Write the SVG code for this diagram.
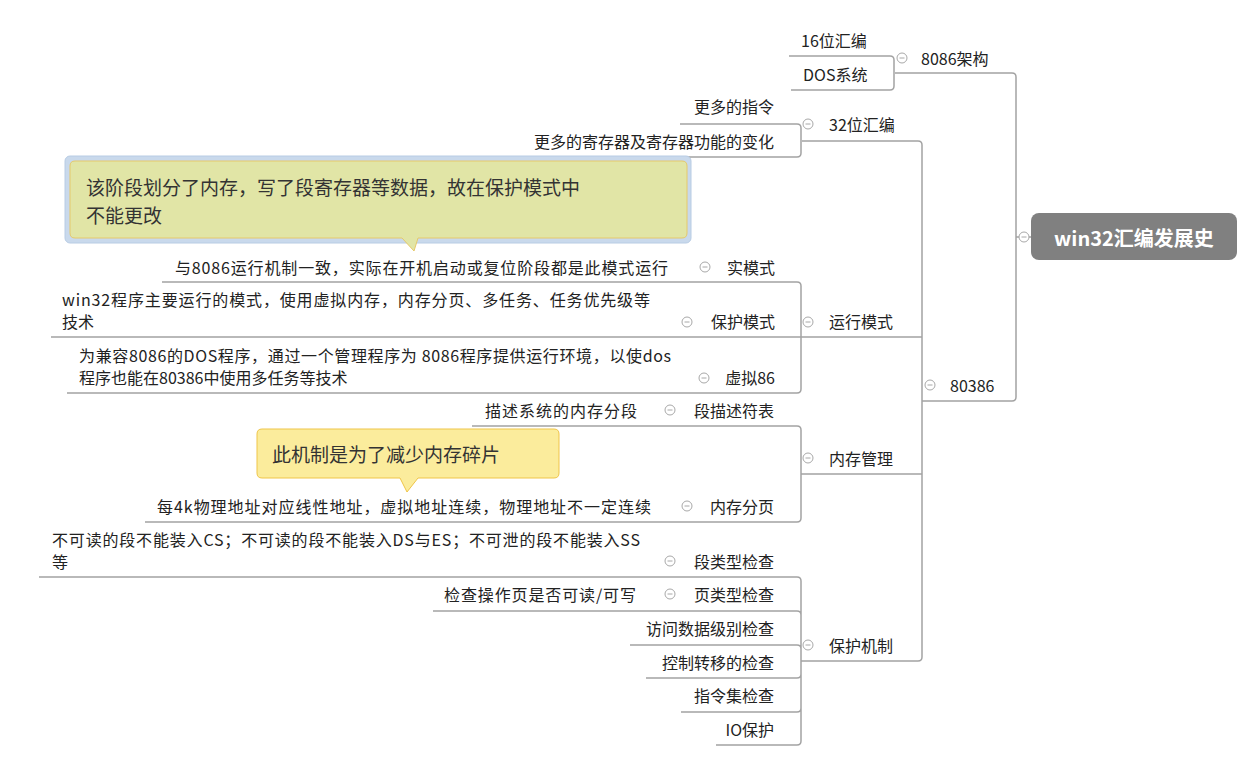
<svg xmlns="http://www.w3.org/2000/svg" width="1248" height="772" viewBox="0 0 1248 772">
<style>
text{font-family:"Noto Sans CJK SC","Noto Sans",sans-serif;font-size:16px;fill:#222;dominant-baseline:central}
.e{text-anchor:end}
.c path{fill:none;stroke:#a3a3a3;stroke-width:1.5}
.col circle{fill:#fff;stroke:#a8a8a8;stroke-width:1}
.col line{stroke:#a8a8a8;stroke-width:1}
</style>
<defs>
<g id="m" class="col"><circle r="5"/><line x1="-2.5" y1="0" x2="2.5" y2="0"/></g>
</defs>
<rect width="1248" height="772" fill="#fff"/>
<g id="connectors" class="c">
<path d="M895,73 H1012 Q1016,73 1016,77 V237 M922,401 H1012 Q1016,401 1016,397 V237 M1016,237 H1031"/>
<path d="M789,56 H890 Q894,56 894,60 V73 M791,90 H890 Q894,90 894,86 V73"/>
<path d="M802,141 H918 Q922,141 922,145 V401 M801,661 H918 Q922,661 922,657 V401 M801,337 H922 M801,474 H922"/>
<path d="M680,124 H797 Q801,124 801,128 V141 M510,157 H797 Q801,157 801,153 V141"/>
<path d="M162,282 H797 Q801,282 801,286 V337 M51,337 H801 M67,393 H797 Q801,393 801,389 V337"/>
<path d="M472,426 H797 Q801,426 801,430 V474 M145,522 H797 Q801,522 801,518 V474"/>
<path d="M39,577 H797 Q801,577 801,581 V661 M433,611 H797 Q801,611 801,615 V661 M630,645 H797 Q801,645 801,649 V661 M646,678 H797 Q801,678 801,674 V661 M681,712 H797 Q801,712 801,708 V661 M716,745 H797 Q801,745 801,741 V661"/>
</g>
<g id="root"><rect x="1031" y="213" width="206" height="47" rx="8" fill="#808080"/><text x="1134" y="237" text-anchor="middle" style="fill:#fff;font-weight:bold;font-size:20px">win32汇编发展史</text><use href="#m" x="1024" y="237"/></g>
<g id="n8086"><text x="921" y="58">8086架构</text><use href="#m" x="902" y="58"/></g>
<g id="n16"><text x="801" y="40">16位汇编</text></g>
<g id="ndos"><text x="803" y="74">DOS系统</text></g>
<g id="n80386"><text x="950" y="385">80386</text><use href="#m" x="930" y="385"/></g>
<g id="n32"><text x="829" y="124">32位汇编</text><use href="#m" x="808" y="124"/></g>
<g id="n32a"><text class="e" x="774" y="106">更多的指令</text></g>
<g id="n32b"><text class="e" x="774" y="141">更多的寄存器及寄存器功能的变化</text></g>
<g id="nrun"><text x="829" y="321">运行模式</text><use href="#m" x="808" y="322"/></g>
<g id="nreal"><text class="e" x="775" y="267">实模式</text><use href="#m" x="705" y="267"/></g>
<g id="nreald"><text x="175" y="267" textLength="493">与8086运行机制一致，实际在开机启动或复位阶段都是此模式运行</text></g>
<g id="nprot"><text class="e" x="775" y="321">保护模式</text><use href="#m" x="687" y="322"/></g>
<g id="nprotd"><text x="62" y="299" textLength="588">win32程序主要运行的模式，使用虚拟内存，内存分页、多任务、任务优先级等</text><text x="62" y="321">技术</text></g>
<g id="nv86"><text class="e" x="775" y="377">虚拟86</text><use href="#m" x="704" y="378"/></g>
<g id="nv86d"><text x="79" y="355" textLength="592">为兼容8086的DOS程序，通过一个管理程序为 8086程序提供运行环境，以使dos</text><text x="79" y="377">程序也能在80386中使用多任务等技术</text></g>
<g id="nmem"><text x="829" y="458">内存管理</text><use href="#m" x="808" y="458"/></g>
<g id="nseg"><text class="e" x="774" y="410">段描述符表</text><use href="#m" x="670" y="410"/></g>
<g id="nsegd"><text x="485" y="410" textLength="152">描述系统的内存分段</text></g>
<g id="npage"><text class="e" x="774" y="506">内存分页</text><use href="#m" x="687" y="506"/></g>
<g id="npaged"><text x="157" y="506" textLength="494">每4k物理地址对应线性地址，虚拟地址连续，物理地址不一定连续</text></g>
<g id="npm"><text x="829" y="645">保护机制</text><use href="#m" x="808" y="645"/></g>
<g id="nst"><text class="e" x="774" y="561">段类型检查</text><use href="#m" x="670" y="561"/></g>
<g id="nstd"><text x="52" y="539" textLength="588">不可读的段不能装入CS；不可读的段不能装入DS与ES；不可泄的段不能装入SS</text><text x="52" y="561">等</text></g>
<g id="npt"><text class="e" x="774" y="594">页类型检查</text><use href="#m" x="670" y="594"/></g>
<g id="nptd"><text x="444" y="594" textLength="192">检查操作页是否可读/可写</text></g>
<g id="nacc"><text class="e" x="774" y="628">访问数据级别检查</text></g>
<g id="nctl"><text class="e" x="774" y="662">控制转移的检查</text></g>
<g id="nins"><text class="e" x="774" y="695">指令集检查</text></g>
<g id="nio"><text class="e" x="774" y="729">IO保护</text></g>
<g id="note1">
<rect x="65" y="156" width="626" height="87" rx="5" fill="#c9d9ec" stroke="#b8cce4"/>
<path d="M75,161 H682 Q687,161 687,166 V233 Q687,238 682,238 H418 L414,251 L402,238 H75 Q70,238 70,233 V166 Q70,161 75,161 Z" fill="#e1e5a6" stroke="#e6c96a"/>
<text x="86" y="186" style="font-size:19px;fill:#333">该阶段划分了内存，写了段寄存器等数据，故在保护模式中</text>
<text x="86" y="214" style="font-size:19px;fill:#333">不能更改</text>
</g>
<g id="note2">
<path d="M262,429 H554 Q559,429 559,434 V473 Q559,478 554,478 H418 L407,492 L400,478 H262 Q257,478 257,473 V434 Q257,429 262,429 Z" fill="#fbec9c" stroke="#efc548"/>
<text x="272" y="453" style="font-size:19px;fill:#333">此机制是为了减少内存碎片</text>
</g>
</svg>
